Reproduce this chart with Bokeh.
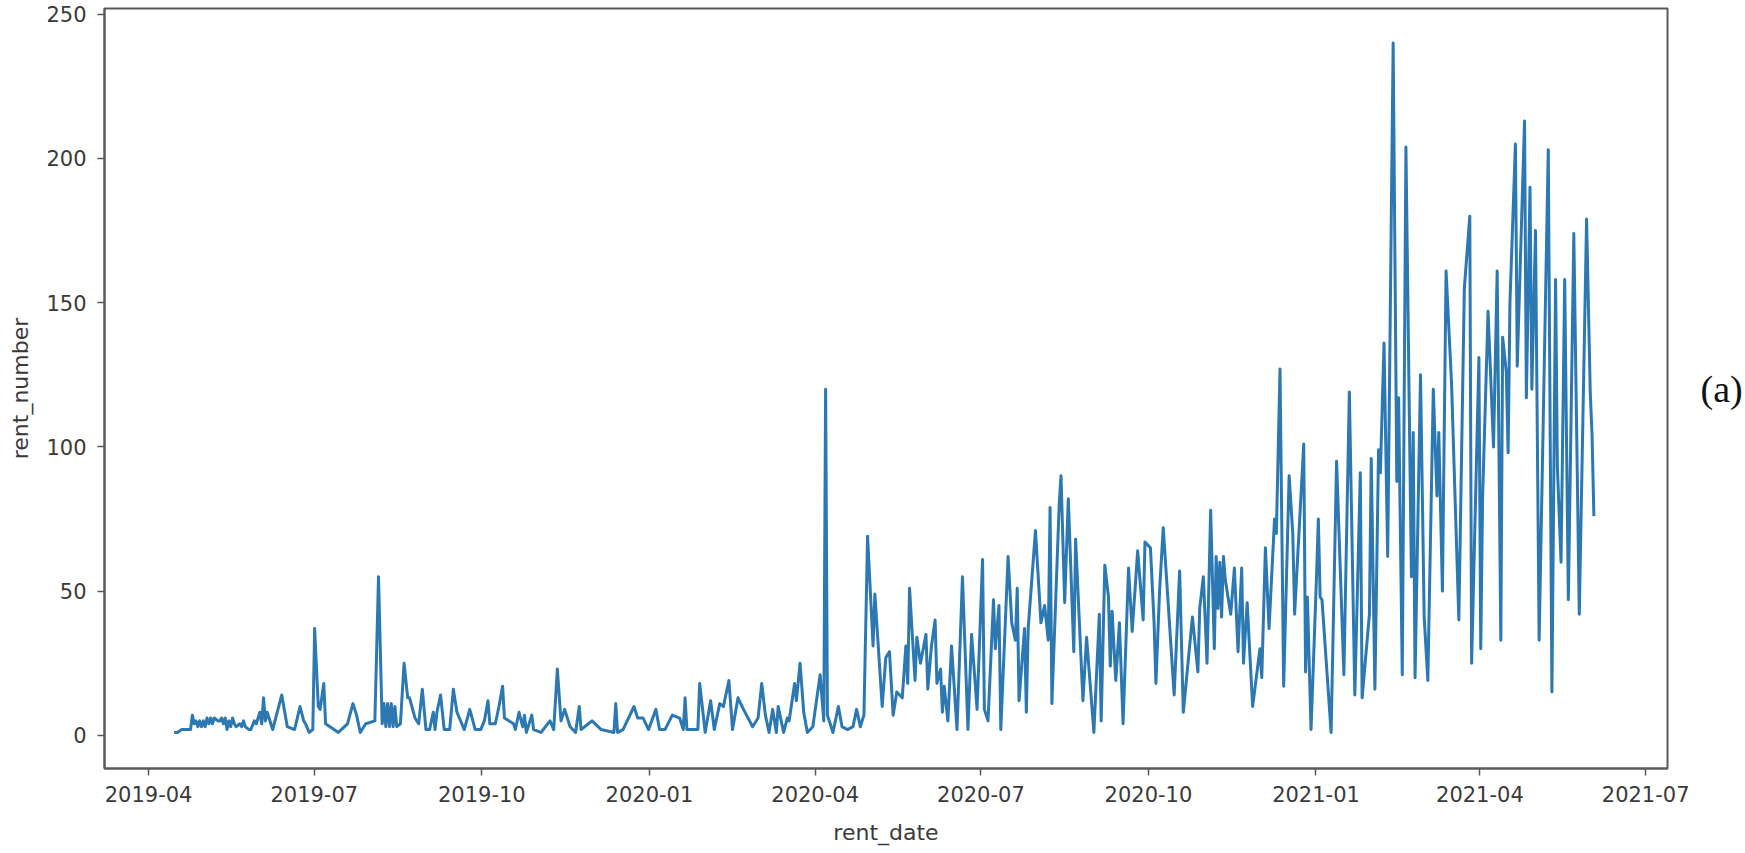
from datetime import datetime, timedelta
from bokeh.plotting import figure
from bokeh.models import FixedTicker, Range1d, LinearAxis
from bokeh.embed import file_html
from bokeh.resources import INLINE

start_date = datetime(2019, 4, 1)

# days since 2019-04-01 : rent number
rent_day_a = [14,16,18,23,24,25,26,27,28,29,30,31,32,33,34,35,36,38,39,40,41,42,43,44,45,46,47,48,50,51,52,53,55,56,58,59,60,
              61,62,63,64,65,66,68,73,76,80,83,85,86,88,90,91,93,94,96,97,104,109,112,114,116,119,124,126,128,129,130,131,132,133,134,135,136,138,
              140,142,143,146,148,150,152,154,156,157,158,160,162,165,167,169,173,176,179,182,184,186,187,190,192,194,195,200,201,203,205,206,207,210,211,215,220,222,224,226,228,231,234,236,237,241]
rent_num_a = [1,1,2,2,7,4,5,3,5,3,5,3,6,4,6,4,6,5,5,6,4,6,2,5,3,6,4,3,4,3,5,3,2,2,5,4,6,
              8,4,13,5,8,6,2,14,3,2,10,5,4,1,2,37,10,9,18,4,1,4,11,7,1,4,5,55,4,11,3,11,3,11,3,10,3,4,
              25,13,13,6,4,16,2,2,8,2,8,14,2,2,16,8,2,9,2,2,5,12,4,4,10,17,6,4,2,8,3,7,1,7,2,1,5,2,23,5,9,3,1,10,2,4]

rent_day_b = [243,248,255,256,257,260,266,268,271,274,278,280,283,287,291,293,294,295,301,302,305,308,310,313,315,318,320,323,326,331,334,336,338,340,342,344,345,348,350,351,354,355,357,359,361,364,368,370,371,372,375,378,380,383,386,388,390,392]
rent_num_b = [5,2,1,11,1,2,10,6,6,2,9,2,2,7,6,2,13,2,2,18,1,12,2,11,10,19,2,13,9,3,6,18,7,1,9,1,10,1,6,5,18,12,25,8,1,3,21,5,120,7,1,10,3,2,3,9,3,7]

rent_day_c = [394,397,398,402,404,406,408,410,413,415,416,417,420,421,423,426,427,429,431,432,434,435,436,438,440,443,446,449,451,454,457,458,460,463,464,466,467,471,473,475,476,477,480,481,482,486,489,491,493,494,495,499,500,502,504,507,508,512,514,518,521,522,524,526,527,528,530,532,534,537,539,542,545,546,549,551,552,554,556,562,565,567,572,575,576,578,580,582,584,585,586,587,588,589,590,593,595,597,599,600,602,605,609,610,612,614,617,618,620,622,625,627,628,633,634,635,637,640,641,642,643,648,651,655,658,661,664,665,669,670,672,674,675,677,679,682,684,685,687,689,692,693,694,697,699,701,704,706,707,709,711,714,718,721,724,725,729,730,731,734,737,739,741,742,744,745,746,749,750,754,755,757,758,760,762,767,769,771,772,774,776,778,781,784,788,790,791,792]
rent_num_c = [69,31,49,10,27,29,7,15,13,31,18,51,19,34,25,35,16,31,40,18,23,8,17,5,31,2,55,2,35,9,61,9,5,47,30,45,2,62,39,33,51,12,37,8,37,71,39,45,33,79,11,80,90,46,82,29,68,12,34,1,42,5,59,48,24,43,19,39,4,58,36,64,40,67,65,39,18,50,72,14,57,8,41,22,44,55,25,78,30,62,44,60,41,62,54,42,58,29,58,25,46,10,30,20,65,37,75,70,127,17,90,70,42,101,22,48,2,55,75,48,47,1,95,21,119,14,91,13,42,96,16,99,91,136,62,240,88,117,21,204,55,105,20,125,41,19,120,83,105,50,161,122,40,155,180,25,131,30,82,147,100,161,33,138,126,98,150,205,128,213,117,190,120,175,33,203,15,158,93,60,158,47,174,42,179,119,104,76]

tick_dates = ["2019-04","2019-07","2019-10","2020-01","2020-04","2020-07","2020-10","2021-01","2021-04","2021-07"]
y_ticks = [0, 50, 100, 150, 200, 250]
x_title = "rent_date"
y_title = "rent_number"
panel_tag = "(a)"

LINE = "#2b78b2"
AXIS = "#5a5a5a"
TEXT = "#3a3a3a"

days = rent_day_a + rent_day_b + rent_day_c
nums = rent_num_a + rent_num_b + rent_num_c
dates = [start_date + timedelta(days=d * 1.002) for d in days]


def ms(d):
    return (d - datetime(1970, 1, 1)).total_seconds() * 1000.0


tick_ms = [ms(datetime.strptime(t, "%Y-%m")) for t in tick_dates]

W, H = 1745, 850
FL, FT, FR, FB = 104, 8, 1667, 768
p = figure(width=W, height=H, output_backend="svg", toolbar_location=None,
           x_axis_type="datetime",
           x_range=Range1d(start_date - timedelta(days=24.2), start_date + timedelta(days=834)),
           y_range=Range1d(-11.5, 252),
           min_border_left=FL, min_border_right=W - FR, min_border_top=FT, min_border_bottom=H - FB,
           background_fill_color="white", border_fill_color="white")
p.grid.visible = False
p.outline_line_color = AXIS
p.outline_line_width = 2

p.line(dates, nums, line_color=LINE, line_width=3, line_join="round")

xa = p.xaxis[0]
xa.ticker = FixedTicker(ticks=tick_ms)
xa.major_label_overrides = {t: s for t, s in zip(tick_ms, tick_dates)}
ya = p.yaxis[0]
ya.ticker = FixedTicker(ticks=y_ticks)
for a in (xa, ya):
    a.axis_line_color = AXIS
    a.axis_line_width = 2
    a.major_tick_line_color = AXIS
    a.major_tick_line_width = 1.5
    a.major_tick_in = 0
    a.major_tick_out = 7
    a.minor_tick_line_color = None
    a.major_label_text_font = "DejaVu Sans"
    a.major_label_text_font_size = "21px"
    a.major_label_text_color = TEXT
    a.axis_label_text_font = "DejaVu Sans"
    a.axis_label_text_font_size = "22px"
    a.axis_label_text_font_style = "normal"
    a.axis_label_text_color = TEXT
xa.axis_label = x_title
ya.axis_label = y_title
xa.major_label_standoff = 10
ya.major_label_standoff = 11
xa.axis_label_standoff = 15
ya.axis_label_standoff = 10

tag_axis = LinearAxis(axis_label=panel_tag, ticker=FixedTicker(ticks=[]),
                      axis_line_color=None, major_tick_line_color=None, minor_tick_line_color=None,
                      major_label_text_font_size="1px", major_label_text_color=None,
                      axis_label_orientation="horizontal", axis_label_standoff=33,
                      axis_label_text_baseline="alphabetic",
                      axis_label_text_font="Liberation Serif", axis_label_text_font_size="38px",
                      axis_label_text_font_style="normal", axis_label_text_color="#111111")
p.add_layout(tag_axis, "right")

open("out.html", "w").write(file_html(p, INLINE))
